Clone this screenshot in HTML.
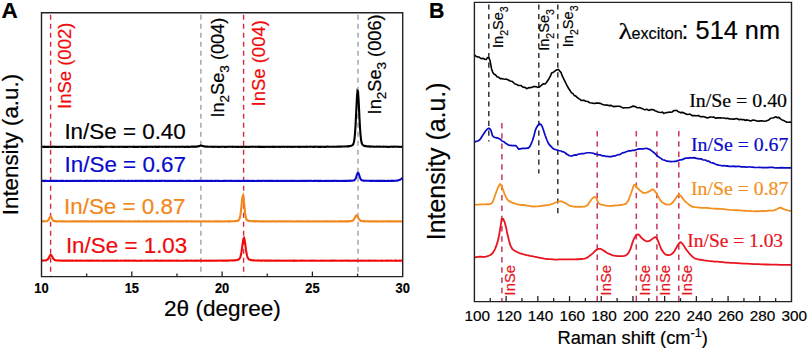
<!DOCTYPE html>
<html><head><meta charset="utf-8"><style>html,body{margin:0;padding:0;background:#fff;width:809px;height:349px;overflow:hidden}svg{display:block}text{stroke:currentColor;stroke-width:0.2px}</style></head>
<body><svg width="809" height="349" viewBox="0 0 809 349">
<rect width="809" height="349" fill="#fff"/>
<line x1="50.60" y1="14.8" x2="50.60" y2="276.6" stroke="#d8283f" stroke-width="1.4" stroke-dasharray="5 4"/>
<line x1="200.90" y1="14.8" x2="200.90" y2="276.6" stroke="#a0a0a0" stroke-width="1.4" stroke-dasharray="5 4"/>
<line x1="243.60" y1="14.8" x2="243.60" y2="276.6" stroke="#d8283f" stroke-width="1.4" stroke-dasharray="5 4"/>
<line x1="358.00" y1="14.8" x2="358.00" y2="276.6" stroke="#a0a0a0" stroke-width="1.4" stroke-dasharray="5 4"/>
<path d="M41.50,146.74 L42.00,146.81 L42.50,146.77 L43.00,146.82 L43.50,146.83 L44.00,146.70 L44.50,146.68 L45.00,146.88 L45.50,146.74 L46.00,146.74 L46.50,146.92 L47.00,146.79 L47.50,146.88 L48.00,146.79 L48.50,146.83 L49.00,146.72 L49.50,146.83 L50.00,146.89 L50.50,146.80 L51.00,146.86 L51.50,146.84 L52.00,146.69 L52.50,146.86 L53.00,146.82 L53.50,146.75 L54.00,146.69 L54.50,146.89 L55.00,146.79 L55.50,146.85 L56.00,146.89 L56.50,146.85 L57.00,146.90 L57.50,146.77 L58.00,146.87 L58.50,146.79 L59.00,146.90 L59.50,146.89 L60.00,146.70 L60.50,146.71 L61.00,146.73 L61.50,146.91 L62.00,146.78 L62.50,146.83 L63.00,146.75 L63.50,146.80 L64.00,146.77 L64.50,146.76 L65.00,146.82 L65.50,146.82 L66.00,146.90 L66.50,146.84 L67.00,146.90 L67.50,146.88 L68.00,146.92 L68.50,146.84 L69.00,146.72 L69.50,146.89 L70.00,146.91 L70.50,146.90 L71.00,146.82 L71.50,146.85 L72.00,146.73 L72.50,146.88 L73.00,146.82 L73.50,146.75 L74.00,146.69 L74.50,146.88 L75.00,146.92 L75.50,146.70 L76.00,146.87 L76.50,146.78 L77.00,146.72 L77.50,146.75 L78.00,146.86 L78.50,146.89 L79.00,146.69 L79.50,146.83 L80.00,146.69 L80.50,146.85 L81.00,146.76 L81.50,146.89 L82.00,146.91 L82.50,146.80 L83.00,146.92 L83.50,146.75 L84.00,146.70 L84.50,146.82 L85.00,146.69 L85.50,146.73 L86.00,146.78 L86.50,146.83 L87.00,146.72 L87.50,146.69 L88.00,146.89 L88.50,146.75 L89.00,146.91 L89.50,146.89 L90.00,146.77 L90.50,146.79 L91.00,146.80 L91.50,146.83 L92.00,146.82 L92.50,146.81 L93.00,146.83 L93.50,146.90 L94.00,146.80 L94.50,146.78 L95.00,146.85 L95.50,146.74 L96.00,146.75 L96.50,146.91 L97.00,146.80 L97.50,146.81 L98.00,146.68 L98.50,146.78 L99.00,146.82 L99.50,146.68 L100.00,146.83 L100.50,146.83 L101.00,146.69 L101.50,146.83 L102.00,146.79 L102.50,146.84 L103.00,146.76 L103.50,146.85 L104.00,146.86 L104.50,146.68 L105.00,146.69 L105.50,146.84 L106.00,146.91 L106.50,146.74 L107.00,146.79 L107.50,146.82 L108.00,146.76 L108.50,146.77 L109.00,146.75 L109.50,146.77 L110.00,146.82 L110.50,146.75 L111.00,146.77 L111.50,146.86 L112.00,146.69 L112.50,146.82 L113.00,146.86 L113.50,146.75 L114.00,146.73 L114.50,146.87 L115.00,146.74 L115.50,146.72 L116.00,146.78 L116.50,146.85 L117.00,146.70 L117.50,146.76 L118.00,146.76 L118.50,146.88 L119.00,146.78 L119.50,146.88 L120.00,146.72 L120.50,146.76 L121.00,146.83 L121.50,146.89 L122.00,146.79 L122.50,146.73 L123.00,146.71 L123.50,146.81 L124.00,146.72 L124.50,146.87 L125.00,146.88 L125.50,146.72 L126.00,146.75 L126.50,146.87 L127.00,146.83 L127.50,146.87 L128.00,146.76 L128.50,146.71 L129.00,146.75 L129.50,146.87 L130.00,146.74 L130.50,146.76 L131.00,146.78 L131.50,146.78 L132.00,146.78 L132.50,146.90 L133.00,146.72 L133.50,146.68 L134.00,146.90 L134.50,146.89 L135.00,146.92 L135.50,146.78 L136.00,146.91 L136.50,146.90 L137.00,146.73 L137.50,146.86 L138.00,146.88 L138.50,146.84 L139.00,146.80 L139.50,146.75 L140.00,146.76 L140.50,146.73 L141.00,146.69 L141.50,146.82 L142.00,146.75 L142.50,146.87 L143.00,146.69 L143.50,146.89 L144.00,146.84 L144.50,146.90 L145.00,146.89 L145.50,146.89 L146.00,146.82 L146.50,146.68 L147.00,146.86 L147.50,146.72 L148.00,146.75 L148.50,146.84 L149.00,146.80 L149.50,146.78 L150.00,146.90 L150.50,146.82 L151.00,146.76 L151.50,146.74 L152.00,146.88 L152.50,146.79 L153.00,146.87 L153.50,146.76 L154.00,146.72 L154.50,146.81 L155.00,146.87 L155.50,146.72 L156.00,146.87 L156.50,146.90 L157.00,146.87 L157.50,146.87 L158.00,146.68 L158.50,146.83 L159.00,146.88 L159.50,146.69 L160.00,146.74 L160.50,146.74 L161.00,146.80 L161.50,146.78 L162.00,146.79 L162.50,146.86 L163.00,146.68 L163.50,146.69 L164.00,146.71 L164.50,146.71 L165.00,146.69 L165.50,146.91 L166.00,146.88 L166.50,146.70 L167.00,146.80 L167.50,146.75 L168.00,146.75 L168.50,146.76 L169.00,146.83 L169.50,146.82 L170.00,146.76 L170.50,146.72 L171.00,146.75 L171.50,146.70 L172.00,146.81 L172.50,146.85 L173.00,146.77 L173.50,146.69 L174.00,146.72 L174.50,146.76 L175.00,146.82 L175.50,146.86 L176.00,146.76 L176.50,146.86 L177.00,146.82 L177.50,146.78 L178.00,146.76 L178.50,146.79 L179.00,146.84 L179.50,146.77 L180.00,146.84 L180.50,146.78 L181.00,146.73 L181.50,146.80 L182.00,146.84 L182.50,146.68 L183.00,146.77 L183.50,146.77 L184.00,146.88 L184.50,146.89 L185.00,146.75 L185.50,146.88 L186.00,146.85 L186.50,146.72 L187.00,146.77 L187.50,146.69 L188.00,146.85 L188.50,146.81 L189.00,146.87 L189.50,146.84 L190.00,146.81 L190.50,146.82 L191.00,146.78 L191.50,146.66 L192.00,146.78 L192.50,146.63 L193.00,146.66 L193.50,146.80 L194.00,146.62 L194.50,146.62 L195.00,146.60 L195.50,146.77 L196.00,146.56 L196.50,146.48 L197.00,146.61 L197.50,146.35 L198.00,146.41 L198.50,146.24 L199.00,146.13 L199.50,146.00 L200.00,145.76 L200.50,145.71 L201.00,145.49 L201.50,145.70 L202.00,145.75 L202.50,145.94 L203.00,145.95 L203.50,146.26 L204.00,146.44 L204.50,146.34 L205.00,146.49 L205.50,146.61 L206.00,146.72 L206.50,146.61 L207.00,146.62 L207.50,146.66 L208.00,146.76 L208.50,146.80 L209.00,146.72 L209.50,146.72 L210.00,146.73 L210.50,146.72 L211.00,146.74 L211.50,146.67 L212.00,146.77 L212.50,146.88 L213.00,146.75 L213.50,146.83 L214.00,146.69 L214.50,146.82 L215.00,146.84 L215.50,146.82 L216.00,146.79 L216.50,146.78 L217.00,146.82 L217.50,146.88 L218.00,146.70 L218.50,146.69 L219.00,146.85 L219.50,146.89 L220.00,146.79 L220.50,146.77 L221.00,146.84 L221.50,146.71 L222.00,146.73 L222.50,146.72 L223.00,146.81 L223.50,146.75 L224.00,146.73 L224.50,146.84 L225.00,146.90 L225.50,146.74 L226.00,146.84 L226.50,146.77 L227.00,146.88 L227.50,146.81 L228.00,146.74 L228.50,146.72 L229.00,146.68 L229.50,146.79 L230.00,146.76 L230.50,146.71 L231.00,146.76 L231.50,146.75 L232.00,146.86 L232.50,146.71 L233.00,146.91 L233.50,146.79 L234.00,146.82 L234.50,146.79 L235.00,146.87 L235.50,146.87 L236.00,146.81 L236.50,146.79 L237.00,146.85 L237.50,146.88 L238.00,146.77 L238.50,146.85 L239.00,146.90 L239.50,146.79 L240.00,146.73 L240.50,146.73 L241.00,146.85 L241.50,146.84 L242.00,146.90 L242.50,146.88 L243.00,146.73 L243.50,146.72 L244.00,146.74 L244.50,146.72 L245.00,146.84 L245.50,146.88 L246.00,146.89 L246.50,146.74 L247.00,146.88 L247.50,146.75 L248.00,146.78 L248.50,146.85 L249.00,146.70 L249.50,146.70 L250.00,146.87 L250.50,146.74 L251.00,146.76 L251.50,146.81 L252.00,146.84 L252.50,146.68 L253.00,146.75 L253.50,146.78 L254.00,146.79 L254.50,146.72 L255.00,146.81 L255.50,146.90 L256.00,146.77 L256.50,146.80 L257.00,146.70 L257.50,146.74 L258.00,146.83 L258.50,146.70 L259.00,146.89 L259.50,146.89 L260.00,146.70 L260.50,146.90 L261.00,146.76 L261.50,146.86 L262.00,146.86 L262.50,146.74 L263.00,146.84 L263.50,146.83 L264.00,146.87 L264.50,146.74 L265.00,146.85 L265.50,146.90 L266.00,146.84 L266.50,146.80 L267.00,146.70 L267.50,146.79 L268.00,146.76 L268.50,146.85 L269.00,146.84 L269.50,146.81 L270.00,146.72 L270.50,146.83 L271.00,146.82 L271.50,146.72 L272.00,146.89 L272.50,146.83 L273.00,146.70 L273.50,146.90 L274.00,146.71 L274.50,146.75 L275.00,146.85 L275.50,146.82 L276.00,146.81 L276.50,146.83 L277.00,146.78 L277.50,146.75 L278.00,146.71 L278.50,146.69 L279.00,146.84 L279.50,146.85 L280.00,146.80 L280.50,146.85 L281.00,146.76 L281.50,146.74 L282.00,146.76 L282.50,146.88 L283.00,146.68 L283.50,146.79 L284.00,146.73 L284.50,146.86 L285.00,146.76 L285.50,146.75 L286.00,146.77 L286.50,146.80 L287.00,146.86 L287.50,146.75 L288.00,146.87 L288.50,146.70 L289.00,146.73 L289.50,146.69 L290.00,146.70 L290.50,146.86 L291.00,146.84 L291.50,146.71 L292.00,146.71 L292.50,146.77 L293.00,146.85 L293.50,146.86 L294.00,146.85 L294.50,146.81 L295.00,146.70 L295.50,146.76 L296.00,146.71 L296.50,146.79 L297.00,146.80 L297.50,146.72 L298.00,146.73 L298.50,146.85 L299.00,146.67 L299.50,146.86 L300.00,146.88 L300.50,146.89 L301.00,146.76 L301.50,146.80 L302.00,146.80 L302.50,146.82 L303.00,146.90 L303.50,146.83 L304.00,146.74 L304.50,146.87 L305.00,146.78 L305.50,146.81 L306.00,146.84 L306.50,146.66 L307.00,146.85 L307.50,146.82 L308.00,146.78 L308.50,146.79 L309.00,146.77 L309.50,146.71 L310.00,146.79 L310.50,146.67 L311.00,146.78 L311.50,146.81 L312.00,146.76 L312.50,146.79 L313.00,146.89 L313.50,146.87 L314.00,146.69 L314.50,146.85 L315.00,146.80 L315.50,146.67 L316.00,146.74 L316.50,146.71 L317.00,146.67 L317.50,146.78 L318.00,146.87 L318.50,146.73 L319.00,146.86 L319.50,146.82 L320.00,146.68 L320.50,146.85 L321.00,146.79 L321.50,146.87 L322.00,146.82 L322.50,146.82 L323.00,146.72 L323.50,146.83 L324.00,146.86 L324.50,146.85 L325.00,146.74 L325.50,146.82 L326.00,146.75 L326.50,146.66 L327.00,146.64 L327.50,146.65 L328.00,146.68 L328.50,146.66 L329.00,146.74 L329.50,146.79 L330.00,146.75 L330.50,146.72 L331.00,146.77 L331.50,146.69 L332.00,146.72 L332.50,146.79 L333.00,146.70 L333.50,146.65 L334.00,146.81 L334.50,146.77 L335.00,146.68 L335.50,146.68 L336.00,146.71 L336.50,146.72 L337.00,146.63 L337.50,146.57 L338.00,146.61 L338.50,146.74 L339.00,146.58 L339.50,146.65 L340.00,146.58 L340.50,146.58 L341.00,146.56 L341.50,146.60 L342.00,146.54 L342.50,146.49 L343.00,146.50 L343.50,146.50 L344.00,146.56 L344.50,146.44 L345.00,146.41 L345.50,146.49 L346.00,146.45 L346.50,146.49 L347.00,146.30 L347.50,146.35 L348.00,146.30 L348.50,146.17 L349.00,146.33 L349.50,146.08 L350.00,145.97 L350.50,145.96 L351.00,145.77 L351.50,145.72 L352.00,145.44 L352.50,145.07 L353.00,144.51 L353.50,143.69 L354.00,141.78 L354.50,138.73 L355.00,133.54 L355.50,126.19 L356.00,116.45 L356.50,105.82 L357.00,96.32 L357.50,90.91 L358.00,91.52 L358.50,98.01 L359.00,107.90 L359.50,118.59 L360.00,127.88 L360.50,134.77 L361.00,139.32 L361.50,142.17 L362.00,143.78 L362.50,144.67 L363.00,145.12 L363.50,145.42 L364.00,145.76 L364.50,145.97 L365.00,145.92 L365.50,146.20 L366.00,146.16 L366.50,146.31 L367.00,146.39 L367.50,146.44 L368.00,146.27 L368.50,146.37 L369.00,146.48 L369.50,146.59 L370.00,146.40 L370.50,146.48 L371.00,146.63 L371.50,146.47 L372.00,146.55 L372.50,146.55 L373.00,146.65 L373.50,146.72 L374.00,146.55 L374.50,146.70 L375.00,146.70 L375.50,146.74 L376.00,146.68 L376.50,146.77 L377.00,146.65 L377.50,146.66 L378.00,146.62 L378.50,146.76 L379.00,146.70 L379.50,146.65 L380.00,146.63 L380.50,146.77 L381.00,146.74 L381.50,146.77 L382.00,146.70 L382.50,146.72 L383.00,146.65 L383.50,146.78 L384.00,146.62 L384.50,146.73 L385.00,146.80 L385.50,146.78 L386.00,146.65 L386.50,146.68 L387.00,146.83 L387.50,146.78 L388.00,146.84 L388.50,146.84 L389.00,146.74 L389.50,146.85 L390.00,146.81 L390.50,146.72 L391.00,146.73 L391.50,146.66 L392.00,146.74 L392.50,146.87 L393.00,146.67 L393.50,146.78 L394.00,146.67 L394.50,146.67 L395.00,146.80 L395.50,146.71 L396.00,146.66 L396.50,146.69 L397.00,146.81 L397.50,146.79 L398.00,146.65 L398.50,146.71 L399.00,146.89 L399.50,146.71 L400.00,146.79 L400.50,146.76 L401.00,146.84 L401.50,146.80 L402.00,146.85 L402.50,146.79" fill="none" stroke="#000" stroke-width="2.1"/>
<path d="M41.50,180.83 L42.00,180.82 L42.50,180.80 L43.00,180.98 L43.50,180.81 L44.00,180.79 L44.50,181.01 L45.00,180.83 L45.50,180.99 L46.00,180.80 L46.50,180.89 L47.00,180.83 L47.50,180.98 L48.00,180.93 L48.50,180.93 L49.00,180.96 L49.50,180.99 L50.00,180.86 L50.50,180.92 L51.00,180.89 L51.50,180.81 L52.00,180.98 L52.50,180.92 L53.00,180.98 L53.50,180.83 L54.00,180.91 L54.50,180.89 L55.00,180.95 L55.50,180.80 L56.00,180.86 L56.50,180.90 L57.00,180.80 L57.50,180.91 L58.00,180.96 L58.50,180.88 L59.00,180.94 L59.50,180.93 L60.00,180.83 L60.50,180.86 L61.00,181.02 L61.50,180.86 L62.00,180.88 L62.50,180.80 L63.00,180.83 L63.50,180.82 L64.00,181.00 L64.50,180.95 L65.00,180.99 L65.50,181.02 L66.00,180.93 L66.50,181.00 L67.00,180.91 L67.50,180.88 L68.00,181.01 L68.50,181.00 L69.00,181.01 L69.50,180.90 L70.00,180.97 L70.50,180.88 L71.00,181.02 L71.50,181.00 L72.00,180.85 L72.50,181.00 L73.00,180.82 L73.50,180.80 L74.00,180.95 L74.50,180.85 L75.00,180.90 L75.50,180.93 L76.00,180.79 L76.50,180.96 L77.00,180.85 L77.50,180.88 L78.00,180.86 L78.50,180.96 L79.00,180.96 L79.50,180.85 L80.00,180.80 L80.50,180.85 L81.00,180.88 L81.50,180.80 L82.00,180.82 L82.50,180.96 L83.00,180.95 L83.50,181.01 L84.00,181.02 L84.50,180.99 L85.00,180.87 L85.50,180.82 L86.00,180.85 L86.50,180.89 L87.00,180.91 L87.50,180.91 L88.00,180.87 L88.50,180.98 L89.00,180.85 L89.50,180.89 L90.00,180.99 L90.50,180.97 L91.00,180.85 L91.50,180.84 L92.00,180.97 L92.50,180.78 L93.00,180.81 L93.50,180.91 L94.00,180.91 L94.50,180.82 L95.00,180.79 L95.50,180.83 L96.00,180.96 L96.50,180.89 L97.00,181.01 L97.50,180.97 L98.00,181.01 L98.50,180.79 L99.00,180.82 L99.50,180.78 L100.00,180.88 L100.50,180.86 L101.00,180.79 L101.50,180.91 L102.00,180.80 L102.50,180.85 L103.00,180.84 L103.50,180.97 L104.00,180.88 L104.50,180.84 L105.00,180.79 L105.50,180.88 L106.00,180.93 L106.50,180.94 L107.00,181.00 L107.50,180.97 L108.00,180.84 L108.50,180.81 L109.00,180.96 L109.50,180.97 L110.00,180.90 L110.50,180.98 L111.00,180.91 L111.50,180.85 L112.00,180.82 L112.50,180.78 L113.00,180.93 L113.50,181.00 L114.00,181.00 L114.50,180.89 L115.00,180.94 L115.50,181.00 L116.00,180.98 L116.50,180.92 L117.00,180.88 L117.50,180.90 L118.00,180.82 L118.50,180.82 L119.00,180.94 L119.50,181.02 L120.00,180.91 L120.50,180.88 L121.00,180.86 L121.50,180.89 L122.00,180.97 L122.50,180.89 L123.00,181.01 L123.50,180.82 L124.00,180.86 L124.50,180.91 L125.00,180.88 L125.50,180.98 L126.00,180.98 L126.50,181.00 L127.00,180.93 L127.50,180.79 L128.00,180.92 L128.50,180.91 L129.00,180.90 L129.50,180.85 L130.00,180.95 L130.50,181.00 L131.00,180.80 L131.50,180.94 L132.00,180.87 L132.50,180.90 L133.00,180.99 L133.50,181.01 L134.00,180.93 L134.50,180.83 L135.00,181.00 L135.50,180.82 L136.00,180.87 L136.50,180.98 L137.00,180.86 L137.50,180.84 L138.00,181.01 L138.50,181.01 L139.00,180.86 L139.50,180.87 L140.00,180.85 L140.50,180.81 L141.00,180.84 L141.50,181.02 L142.00,180.80 L142.50,180.83 L143.00,180.83 L143.50,180.80 L144.00,180.91 L144.50,180.96 L145.00,180.98 L145.50,180.93 L146.00,180.98 L146.50,180.78 L147.00,180.85 L147.50,181.01 L148.00,180.80 L148.50,180.84 L149.00,180.90 L149.50,180.84 L150.00,180.91 L150.50,180.79 L151.00,180.84 L151.50,181.01 L152.00,180.81 L152.50,181.00 L153.00,180.82 L153.50,181.02 L154.00,180.94 L154.50,180.94 L155.00,180.81 L155.50,180.79 L156.00,180.96 L156.50,180.82 L157.00,180.83 L157.50,180.98 L158.00,180.99 L158.50,180.79 L159.00,181.01 L159.50,180.91 L160.00,180.87 L160.50,180.81 L161.00,180.87 L161.50,181.02 L162.00,180.85 L162.50,180.81 L163.00,180.81 L163.50,180.81 L164.00,180.86 L164.50,181.00 L165.00,180.80 L165.50,180.83 L166.00,181.01 L166.50,181.02 L167.00,181.01 L167.50,180.84 L168.00,180.86 L168.50,181.01 L169.00,180.90 L169.50,180.95 L170.00,180.85 L170.50,180.78 L171.00,180.86 L171.50,180.96 L172.00,180.97 L172.50,180.92 L173.00,180.89 L173.50,180.91 L174.00,180.89 L174.50,180.91 L175.00,180.98 L175.50,180.83 L176.00,180.92 L176.50,181.00 L177.00,180.98 L177.50,180.82 L178.00,181.01 L178.50,180.98 L179.00,180.82 L179.50,180.84 L180.00,180.83 L180.50,180.79 L181.00,181.01 L181.50,180.88 L182.00,180.99 L182.50,180.81 L183.00,180.78 L183.50,180.99 L184.00,180.97 L184.50,181.02 L185.00,180.94 L185.50,180.91 L186.00,180.96 L186.50,180.80 L187.00,180.91 L187.50,180.89 L188.00,180.81 L188.50,180.92 L189.00,180.86 L189.50,180.90 L190.00,180.87 L190.50,180.86 L191.00,180.87 L191.50,180.92 L192.00,181.02 L192.50,181.00 L193.00,180.99 L193.50,180.98 L194.00,180.85 L194.50,181.01 L195.00,180.84 L195.50,180.81 L196.00,180.90 L196.50,180.96 L197.00,180.86 L197.50,180.93 L198.00,180.85 L198.50,181.01 L199.00,180.89 L199.50,180.89 L200.00,180.91 L200.50,180.99 L201.00,181.02 L201.50,180.91 L202.00,180.89 L202.50,180.93 L203.00,180.80 L203.50,180.88 L204.00,180.98 L204.50,180.97 L205.00,180.79 L205.50,180.98 L206.00,180.87 L206.50,181.02 L207.00,180.87 L207.50,180.83 L208.00,180.91 L208.50,180.99 L209.00,180.88 L209.50,180.99 L210.00,180.95 L210.50,180.87 L211.00,180.85 L211.50,180.90 L212.00,180.88 L212.50,180.87 L213.00,180.94 L213.50,180.99 L214.00,180.92 L214.50,180.81 L215.00,180.83 L215.50,180.87 L216.00,180.93 L216.50,180.81 L217.00,180.80 L217.50,180.86 L218.00,180.85 L218.50,180.79 L219.00,180.91 L219.50,181.00 L220.00,180.91 L220.50,180.96 L221.00,180.98 L221.50,180.98 L222.00,181.00 L222.50,180.89 L223.00,180.94 L223.50,180.81 L224.00,180.99 L224.50,180.87 L225.00,180.89 L225.50,180.99 L226.00,180.85 L226.50,180.83 L227.00,180.98 L227.50,180.92 L228.00,180.80 L228.50,180.79 L229.00,180.86 L229.50,180.78 L230.00,180.98 L230.50,180.82 L231.00,180.85 L231.50,180.87 L232.00,180.90 L232.50,180.88 L233.00,180.93 L233.50,180.94 L234.00,180.88 L234.50,180.80 L235.00,181.01 L235.50,180.95 L236.00,180.80 L236.50,180.89 L237.00,180.96 L237.50,181.02 L238.00,180.80 L238.50,180.78 L239.00,180.89 L239.50,180.88 L240.00,180.99 L240.50,180.98 L241.00,180.86 L241.50,180.88 L242.00,180.92 L242.50,180.99 L243.00,180.83 L243.50,180.87 L244.00,180.80 L244.50,180.93 L245.00,180.79 L245.50,181.00 L246.00,180.91 L246.50,180.92 L247.00,180.80 L247.50,180.84 L248.00,180.89 L248.50,180.99 L249.00,180.91 L249.50,180.85 L250.00,181.01 L250.50,180.94 L251.00,180.91 L251.50,180.83 L252.00,180.85 L252.50,181.00 L253.00,180.81 L253.50,180.91 L254.00,180.93 L254.50,180.86 L255.00,180.96 L255.50,181.00 L256.00,180.99 L256.50,180.96 L257.00,180.83 L257.50,180.79 L258.00,180.88 L258.50,180.85 L259.00,180.83 L259.50,180.99 L260.00,180.83 L260.50,180.98 L261.00,181.00 L261.50,180.81 L262.00,181.00 L262.50,180.87 L263.00,180.83 L263.50,180.82 L264.00,180.79 L264.50,180.90 L265.00,180.87 L265.50,180.98 L266.00,180.98 L266.50,180.79 L267.00,180.88 L267.50,180.87 L268.00,180.82 L268.50,180.84 L269.00,180.84 L269.50,180.95 L270.00,180.86 L270.50,180.81 L271.00,180.83 L271.50,180.89 L272.00,180.91 L272.50,180.84 L273.00,180.95 L273.50,180.83 L274.00,180.94 L274.50,180.93 L275.00,180.82 L275.50,180.96 L276.00,180.87 L276.50,180.91 L277.00,180.92 L277.50,180.93 L278.00,180.88 L278.50,180.79 L279.00,180.97 L279.50,180.98 L280.00,180.90 L280.50,180.92 L281.00,180.84 L281.50,180.99 L282.00,180.94 L282.50,180.83 L283.00,180.97 L283.50,181.02 L284.00,180.86 L284.50,181.02 L285.00,180.89 L285.50,180.82 L286.00,180.95 L286.50,180.86 L287.00,180.95 L287.50,180.92 L288.00,180.80 L288.50,180.91 L289.00,180.98 L289.50,180.89 L290.00,180.91 L290.50,180.99 L291.00,180.89 L291.50,180.90 L292.00,180.92 L292.50,180.98 L293.00,180.83 L293.50,180.80 L294.00,180.96 L294.50,180.91 L295.00,180.85 L295.50,180.99 L296.00,180.99 L296.50,180.91 L297.00,181.01 L297.50,180.98 L298.00,180.96 L298.50,180.85 L299.00,180.78 L299.50,180.94 L300.00,180.95 L300.50,180.86 L301.00,180.89 L301.50,180.91 L302.00,180.84 L302.50,180.94 L303.00,180.91 L303.50,180.87 L304.00,180.80 L304.50,180.91 L305.00,180.85 L305.50,180.95 L306.00,180.82 L306.50,180.87 L307.00,180.82 L307.50,180.87 L308.00,180.91 L308.50,180.80 L309.00,180.79 L309.50,180.89 L310.00,180.82 L310.50,180.90 L311.00,180.82 L311.50,180.80 L312.00,180.91 L312.50,181.00 L313.00,180.98 L313.50,180.90 L314.00,180.87 L314.50,180.79 L315.00,180.84 L315.50,180.85 L316.00,181.00 L316.50,180.80 L317.00,181.00 L317.50,180.89 L318.00,180.88 L318.50,180.84 L319.00,181.01 L319.50,180.82 L320.00,180.91 L320.50,180.90 L321.00,180.82 L321.50,180.83 L322.00,181.01 L322.50,180.96 L323.00,180.95 L323.50,180.99 L324.00,180.80 L324.50,180.94 L325.00,180.95 L325.50,180.83 L326.00,180.88 L326.50,181.01 L327.00,180.85 L327.50,180.95 L328.00,180.81 L328.50,180.93 L329.00,180.83 L329.50,180.89 L330.00,180.86 L330.50,180.98 L331.00,180.95 L331.50,180.89 L332.00,180.93 L332.50,180.87 L333.00,180.96 L333.50,180.83 L334.00,180.90 L334.50,180.91 L335.00,180.86 L335.50,180.77 L336.00,180.80 L336.50,180.92 L337.00,180.81 L337.50,180.94 L338.00,180.88 L338.50,180.99 L339.00,180.96 L339.50,180.93 L340.00,180.84 L340.50,180.76 L341.00,180.88 L341.50,180.93 L342.00,180.97 L342.50,180.79 L343.00,180.78 L343.50,180.98 L344.00,180.92 L344.50,180.85 L345.00,180.91 L345.50,180.76 L346.00,180.85 L346.50,180.88 L347.00,180.86 L347.50,180.74 L348.00,180.73 L348.50,180.84 L349.00,180.89 L349.50,180.70 L350.00,180.66 L350.50,180.66 L351.00,180.81 L351.50,180.69 L352.00,180.67 L352.50,180.76 L353.00,180.61 L353.50,180.44 L354.00,180.39 L354.50,179.94 L355.00,179.52 L355.50,178.82 L356.00,177.54 L356.50,176.01 L357.00,174.50 L357.50,173.10 L358.00,172.71 L358.50,173.05 L359.00,174.57 L359.50,176.09 L360.00,177.69 L360.50,178.76 L361.00,179.61 L361.50,180.02 L362.00,180.27 L362.50,180.48 L363.00,180.66 L363.50,180.61 L364.00,180.62 L364.50,180.69 L365.00,180.64 L365.50,180.71 L366.00,180.79 L366.50,180.80 L367.00,180.82 L367.50,180.76 L368.00,180.70 L368.50,180.71 L369.00,180.79 L369.50,180.77 L370.00,180.86 L370.50,180.79 L371.00,180.91 L371.50,180.88 L372.00,180.90 L372.50,180.92 L373.00,180.87 L373.50,180.85 L374.00,180.82 L374.50,180.76 L375.00,180.94 L375.50,180.87 L376.00,180.78 L376.50,180.98 L377.00,180.90 L377.50,180.91 L378.00,180.86 L378.50,180.79 L379.00,181.00 L379.50,180.80 L380.00,180.85 L380.50,181.00 L381.00,180.79 L381.50,180.88 L382.00,180.88 L382.50,180.82 L383.00,180.99 L383.50,180.86 L384.00,180.77 L384.50,180.88 L385.00,180.77 L385.50,180.94 L386.00,180.97 L386.50,180.98 L387.00,180.77 L387.50,180.92 L388.00,180.83 L388.50,180.87 L389.00,180.83 L389.50,180.83 L390.00,180.78 L390.50,180.90 L391.00,180.76 L391.50,180.96 L392.00,180.73 L392.50,180.95 L393.00,180.75 L393.50,180.71 L394.00,180.84 L394.50,180.77 L395.00,180.80 L395.50,180.70 L396.00,180.69 L396.50,180.50 L397.00,180.58 L397.50,180.46 L398.00,180.47 L398.50,180.12 L399.00,179.99 L399.50,179.96 L400.00,179.81 L400.50,179.42 L401.00,179.17 L401.50,178.74 L402.00,178.22 L402.50,177.66" fill="none" stroke="#0a0acc" stroke-width="2.1"/>
<path d="M41.50,221.38 L42.00,221.24 L42.50,221.30 L43.00,221.40 L43.50,221.28 L44.00,221.32 L44.50,221.26 L45.00,221.26 L45.50,221.31 L46.00,221.31 L46.50,221.31 L47.00,221.11 L47.50,220.86 L48.00,220.55 L48.50,219.89 L49.00,219.04 L49.50,218.03 L50.00,217.00 L50.50,216.35 L51.00,216.59 L51.50,217.47 L52.00,218.61 L52.50,219.67 L53.00,220.33 L53.50,220.91 L54.00,221.07 L54.50,221.14 L55.00,221.22 L55.50,221.16 L56.00,221.35 L56.50,221.37 L57.00,221.29 L57.50,221.39 L58.00,221.29 L58.50,221.28 L59.00,221.29 L59.50,221.29 L60.00,221.39 L60.50,221.40 L61.00,221.42 L61.50,221.28 L62.00,221.44 L62.50,221.37 L63.00,221.35 L63.50,221.38 L64.00,221.36 L64.50,221.31 L65.00,221.36 L65.50,221.42 L66.00,221.44 L66.50,221.49 L67.00,221.31 L67.50,221.48 L68.00,221.46 L68.50,221.44 L69.00,221.50 L69.50,221.30 L70.00,221.46 L70.50,221.49 L71.00,221.30 L71.50,221.41 L72.00,221.50 L72.50,221.34 L73.00,221.48 L73.50,221.49 L74.00,221.38 L74.50,221.31 L75.00,221.33 L75.50,221.47 L76.00,221.38 L76.50,221.35 L77.00,221.38 L77.50,221.50 L78.00,221.34 L78.50,221.28 L79.00,221.50 L79.50,221.35 L80.00,221.37 L80.50,221.51 L81.00,221.34 L81.50,221.30 L82.00,221.49 L82.50,221.33 L83.00,221.33 L83.50,221.50 L84.00,221.33 L84.50,221.49 L85.00,221.36 L85.50,221.35 L86.00,221.33 L86.50,221.41 L87.00,221.41 L87.50,221.37 L88.00,221.40 L88.50,221.35 L89.00,221.48 L89.50,221.50 L90.00,221.46 L90.50,221.47 L91.00,221.29 L91.50,221.34 L92.00,221.33 L92.50,221.31 L93.00,221.51 L93.50,221.49 L94.00,221.50 L94.50,221.41 L95.00,221.31 L95.50,221.38 L96.00,221.29 L96.50,221.49 L97.00,221.34 L97.50,221.35 L98.00,221.50 L98.50,221.33 L99.00,221.50 L99.50,221.35 L100.00,221.44 L100.50,221.30 L101.00,221.49 L101.50,221.37 L102.00,221.36 L102.50,221.43 L103.00,221.42 L103.50,221.34 L104.00,221.31 L104.50,221.42 L105.00,221.28 L105.50,221.49 L106.00,221.36 L106.50,221.32 L107.00,221.36 L107.50,221.31 L108.00,221.35 L108.50,221.41 L109.00,221.38 L109.50,221.36 L110.00,221.35 L110.50,221.39 L111.00,221.46 L111.50,221.38 L112.00,221.46 L112.50,221.39 L113.00,221.31 L113.50,221.32 L114.00,221.48 L114.50,221.39 L115.00,221.37 L115.50,221.40 L116.00,221.48 L116.50,221.37 L117.00,221.36 L117.50,221.37 L118.00,221.28 L118.50,221.41 L119.00,221.39 L119.50,221.40 L120.00,221.39 L120.50,221.39 L121.00,221.45 L121.50,221.32 L122.00,221.51 L122.50,221.31 L123.00,221.49 L123.50,221.32 L124.00,221.47 L124.50,221.34 L125.00,221.30 L125.50,221.41 L126.00,221.48 L126.50,221.48 L127.00,221.49 L127.50,221.51 L128.00,221.29 L128.50,221.37 L129.00,221.30 L129.50,221.46 L130.00,221.39 L130.50,221.46 L131.00,221.47 L131.50,221.52 L132.00,221.44 L132.50,221.49 L133.00,221.41 L133.50,221.30 L134.00,221.49 L134.50,221.30 L135.00,221.30 L135.50,221.48 L136.00,221.35 L136.50,221.44 L137.00,221.28 L137.50,221.33 L138.00,221.45 L138.50,221.29 L139.00,221.40 L139.50,221.50 L140.00,221.33 L140.50,221.45 L141.00,221.46 L141.50,221.43 L142.00,221.46 L142.50,221.45 L143.00,221.28 L143.50,221.32 L144.00,221.41 L144.50,221.51 L145.00,221.33 L145.50,221.42 L146.00,221.31 L146.50,221.48 L147.00,221.38 L147.50,221.40 L148.00,221.44 L148.50,221.31 L149.00,221.45 L149.50,221.47 L150.00,221.48 L150.50,221.34 L151.00,221.33 L151.50,221.32 L152.00,221.49 L152.50,221.38 L153.00,221.37 L153.50,221.40 L154.00,221.44 L154.50,221.35 L155.00,221.36 L155.50,221.46 L156.00,221.46 L156.50,221.35 L157.00,221.29 L157.50,221.50 L158.00,221.45 L158.50,221.42 L159.00,221.37 L159.50,221.51 L160.00,221.38 L160.50,221.33 L161.00,221.30 L161.50,221.36 L162.00,221.42 L162.50,221.36 L163.00,221.50 L163.50,221.43 L164.00,221.39 L164.50,221.43 L165.00,221.42 L165.50,221.42 L166.00,221.40 L166.50,221.40 L167.00,221.39 L167.50,221.48 L168.00,221.32 L168.50,221.46 L169.00,221.35 L169.50,221.48 L170.00,221.29 L170.50,221.39 L171.00,221.38 L171.50,221.45 L172.00,221.32 L172.50,221.34 L173.00,221.31 L173.50,221.41 L174.00,221.41 L174.50,221.28 L175.00,221.32 L175.50,221.32 L176.00,221.51 L176.50,221.38 L177.00,221.41 L177.50,221.34 L178.00,221.43 L178.50,221.47 L179.00,221.44 L179.50,221.28 L180.00,221.38 L180.50,221.39 L181.00,221.29 L181.50,221.46 L182.00,221.35 L182.50,221.34 L183.00,221.42 L183.50,221.41 L184.00,221.39 L184.50,221.48 L185.00,221.40 L185.50,221.36 L186.00,221.29 L186.50,221.41 L187.00,221.36 L187.50,221.40 L188.00,221.36 L188.50,221.27 L189.00,221.28 L189.50,221.31 L190.00,221.30 L190.50,221.48 L191.00,221.41 L191.50,221.33 L192.00,221.44 L192.50,221.42 L193.00,221.29 L193.50,221.45 L194.00,221.33 L194.50,221.51 L195.00,221.31 L195.50,221.34 L196.00,221.33 L196.50,221.48 L197.00,221.47 L197.50,221.41 L198.00,221.31 L198.50,221.37 L199.00,221.44 L199.50,221.28 L200.00,221.49 L200.50,221.47 L201.00,221.49 L201.50,221.44 L202.00,221.42 L202.50,221.50 L203.00,221.33 L203.50,221.34 L204.00,221.30 L204.50,221.31 L205.00,221.46 L205.50,221.29 L206.00,221.44 L206.50,221.36 L207.00,221.48 L207.50,221.45 L208.00,221.43 L208.50,221.47 L209.00,221.27 L209.50,221.33 L210.00,221.35 L210.50,221.36 L211.00,221.42 L211.50,221.47 L212.00,221.44 L212.50,221.48 L213.00,221.43 L213.50,221.34 L214.00,221.38 L214.50,221.44 L215.00,221.45 L215.50,221.34 L216.00,221.34 L216.50,221.40 L217.00,221.31 L217.50,221.46 L218.00,221.25 L218.50,221.40 L219.00,221.36 L219.50,221.29 L220.00,221.38 L220.50,221.36 L221.00,221.47 L221.50,221.45 L222.00,221.38 L222.50,221.44 L223.00,221.44 L223.50,221.27 L224.00,221.43 L224.50,221.42 L225.00,221.46 L225.50,221.40 L226.00,221.31 L226.50,221.26 L227.00,221.36 L227.50,221.25 L228.00,221.38 L228.50,221.33 L229.00,221.38 L229.50,221.26 L230.00,221.24 L230.50,221.38 L231.00,221.31 L231.50,221.23 L232.00,221.26 L232.50,221.22 L233.00,221.25 L233.50,221.20 L234.00,221.12 L234.50,221.26 L235.00,221.21 L235.50,221.14 L236.00,220.98 L236.50,220.90 L237.00,220.96 L237.50,220.88 L238.00,220.68 L238.50,220.31 L239.00,219.92 L239.50,218.91 L240.00,217.14 L240.50,214.40 L241.00,210.38 L241.50,205.50 L242.00,200.49 L242.50,196.78 L243.00,195.57 L243.50,197.93 L244.00,202.48 L244.50,207.54 L245.00,212.15 L245.50,215.73 L246.00,217.86 L246.50,219.43 L247.00,220.14 L247.50,220.52 L248.00,220.67 L248.50,220.87 L249.00,220.84 L249.50,221.00 L250.00,220.99 L250.50,221.20 L251.00,221.20 L251.50,221.15 L252.00,221.24 L252.50,221.18 L253.00,221.23 L253.50,221.16 L254.00,221.34 L254.50,221.33 L255.00,221.34 L255.50,221.18 L256.00,221.37 L256.50,221.18 L257.00,221.32 L257.50,221.31 L258.00,221.21 L258.50,221.30 L259.00,221.42 L259.50,221.36 L260.00,221.29 L260.50,221.41 L261.00,221.31 L261.50,221.44 L262.00,221.32 L262.50,221.25 L263.00,221.47 L263.50,221.25 L264.00,221.30 L264.50,221.42 L265.00,221.27 L265.50,221.37 L266.00,221.45 L266.50,221.39 L267.00,221.33 L267.50,221.43 L268.00,221.45 L268.50,221.39 L269.00,221.40 L269.50,221.33 L270.00,221.35 L270.50,221.49 L271.00,221.49 L271.50,221.26 L272.00,221.30 L272.50,221.31 L273.00,221.45 L273.50,221.31 L274.00,221.30 L274.50,221.44 L275.00,221.30 L275.50,221.50 L276.00,221.37 L276.50,221.48 L277.00,221.46 L277.50,221.31 L278.00,221.45 L278.50,221.36 L279.00,221.32 L279.50,221.28 L280.00,221.43 L280.50,221.40 L281.00,221.34 L281.50,221.47 L282.00,221.31 L282.50,221.37 L283.00,221.29 L283.50,221.35 L284.00,221.48 L284.50,221.39 L285.00,221.30 L285.50,221.32 L286.00,221.42 L286.50,221.34 L287.00,221.48 L287.50,221.28 L288.00,221.48 L288.50,221.42 L289.00,221.47 L289.50,221.35 L290.00,221.29 L290.50,221.31 L291.00,221.42 L291.50,221.28 L292.00,221.30 L292.50,221.46 L293.00,221.48 L293.50,221.48 L294.00,221.47 L294.50,221.40 L295.00,221.48 L295.50,221.44 L296.00,221.40 L296.50,221.37 L297.00,221.28 L297.50,221.29 L298.00,221.33 L298.50,221.38 L299.00,221.30 L299.50,221.50 L300.00,221.41 L300.50,221.45 L301.00,221.49 L301.50,221.33 L302.00,221.48 L302.50,221.50 L303.00,221.34 L303.50,221.30 L304.00,221.46 L304.50,221.49 L305.00,221.46 L305.50,221.37 L306.00,221.42 L306.50,221.30 L307.00,221.33 L307.50,221.37 L308.00,221.45 L308.50,221.29 L309.00,221.49 L309.50,221.28 L310.00,221.50 L310.50,221.33 L311.00,221.47 L311.50,221.47 L312.00,221.50 L312.50,221.38 L313.00,221.44 L313.50,221.34 L314.00,221.47 L314.50,221.30 L315.00,221.48 L315.50,221.41 L316.00,221.29 L316.50,221.50 L317.00,221.35 L317.50,221.29 L318.00,221.33 L318.50,221.28 L319.00,221.34 L319.50,221.44 L320.00,221.51 L320.50,221.42 L321.00,221.48 L321.50,221.47 L322.00,221.44 L322.50,221.36 L323.00,221.33 L323.50,221.31 L324.00,221.40 L324.50,221.32 L325.00,221.45 L325.50,221.35 L326.00,221.41 L326.50,221.40 L327.00,221.42 L327.50,221.30 L328.00,221.33 L328.50,221.43 L329.00,221.32 L329.50,221.43 L330.00,221.50 L330.50,221.36 L331.00,221.50 L331.50,221.41 L332.00,221.49 L332.50,221.39 L333.00,221.44 L333.50,221.43 L334.00,221.31 L334.50,221.38 L335.00,221.40 L335.50,221.37 L336.00,221.42 L336.50,221.48 L337.00,221.45 L337.50,221.45 L338.00,221.29 L338.50,221.42 L339.00,221.40 L339.50,221.47 L340.00,221.25 L340.50,221.29 L341.00,221.48 L341.50,221.33 L342.00,221.41 L342.50,221.38 L343.00,221.33 L343.50,221.33 L344.00,221.36 L344.50,221.46 L345.00,221.34 L345.50,221.40 L346.00,221.28 L346.50,221.37 L347.00,221.33 L347.50,221.36 L348.00,221.38 L348.50,221.17 L349.00,221.37 L349.50,221.27 L350.00,221.16 L350.50,221.17 L351.00,221.04 L351.50,220.99 L352.00,221.02 L352.50,220.79 L353.00,220.50 L353.50,219.85 L354.00,219.16 L354.50,218.37 L355.00,217.41 L355.50,216.49 L356.00,215.64 L356.50,215.46 L357.00,215.71 L357.50,216.39 L358.00,217.48 L358.50,218.30 L359.00,219.28 L359.50,219.86 L360.00,220.31 L360.50,220.73 L361.00,220.94 L361.50,221.08 L362.00,221.10 L362.50,221.28 L363.00,221.28 L363.50,221.16 L364.00,221.14 L364.50,221.39 L365.00,221.27 L365.50,221.21 L366.00,221.23 L366.50,221.37 L367.00,221.25 L367.50,221.30 L368.00,221.38 L368.50,221.31 L369.00,221.38 L369.50,221.46 L370.00,221.42 L370.50,221.39 L371.00,221.39 L371.50,221.32 L372.00,221.40 L372.50,221.40 L373.00,221.39 L373.50,221.37 L374.00,221.43 L374.50,221.30 L375.00,221.43 L375.50,221.49 L376.00,221.27 L376.50,221.32 L377.00,221.50 L377.50,221.28 L378.00,221.46 L378.50,221.40 L379.00,221.28 L379.50,221.41 L380.00,221.27 L380.50,221.47 L381.00,221.34 L381.50,221.49 L382.00,221.48 L382.50,221.30 L383.00,221.36 L383.50,221.30 L384.00,221.45 L384.50,221.29 L385.00,221.29 L385.50,221.30 L386.00,221.48 L386.50,221.33 L387.00,221.35 L387.50,221.38 L388.00,221.40 L388.50,221.37 L389.00,221.50 L389.50,221.35 L390.00,221.39 L390.50,221.48 L391.00,221.33 L391.50,221.31 L392.00,221.47 L392.50,221.35 L393.00,221.49 L393.50,221.47 L394.00,221.36 L394.50,221.35 L395.00,221.30 L395.50,221.48 L396.00,221.38 L396.50,221.36 L397.00,221.32 L397.50,221.33 L398.00,221.48 L398.50,221.31 L399.00,221.41 L399.50,221.42 L400.00,221.40 L400.50,221.40 L401.00,221.37 L401.50,221.32 L402.00,221.47 L402.50,221.49" fill="none" stroke="#f2861a" stroke-width="2.1"/>
<path d="M41.50,260.60 L42.00,260.51 L42.50,260.65 L43.00,260.47 L43.50,260.44 L44.00,260.52 L44.50,260.54 L45.00,260.43 L45.50,260.26 L46.00,260.37 L46.50,260.02 L47.00,259.83 L47.50,259.63 L48.00,259.07 L48.50,258.36 L49.00,257.34 L49.50,256.57 L50.00,255.57 L50.50,254.89 L51.00,255.02 L51.50,255.55 L52.00,256.19 L52.50,257.24 L53.00,258.24 L53.50,258.83 L54.00,259.38 L54.50,259.88 L55.00,260.05 L55.50,260.35 L56.00,260.42 L56.50,260.49 L57.00,260.50 L57.50,260.41 L58.00,260.56 L58.50,260.55 L59.00,260.55 L59.50,260.58 L60.00,260.53 L60.50,260.52 L61.00,260.70 L61.50,260.58 L62.00,260.52 L62.50,260.74 L63.00,260.63 L63.50,260.68 L64.00,260.60 L64.50,260.56 L65.00,260.61 L65.50,260.73 L66.00,260.60 L66.50,260.76 L67.00,260.61 L67.50,260.76 L68.00,260.59 L68.50,260.65 L69.00,260.58 L69.50,260.58 L70.00,260.68 L70.50,260.64 L71.00,260.68 L71.50,260.61 L72.00,260.63 L72.50,260.63 L73.00,260.77 L73.50,260.58 L74.00,260.66 L74.50,260.77 L75.00,260.70 L75.50,260.62 L76.00,260.80 L76.50,260.59 L77.00,260.60 L77.50,260.57 L78.00,260.67 L78.50,260.77 L79.00,260.63 L79.50,260.63 L80.00,260.76 L80.50,260.59 L81.00,260.57 L81.50,260.73 L82.00,260.59 L82.50,260.69 L83.00,260.60 L83.50,260.71 L84.00,260.77 L84.50,260.68 L85.00,260.64 L85.50,260.72 L86.00,260.74 L86.50,260.58 L87.00,260.63 L87.50,260.66 L88.00,260.69 L88.50,260.64 L89.00,260.73 L89.50,260.63 L90.00,260.79 L90.50,260.66 L91.00,260.63 L91.50,260.59 L92.00,260.60 L92.50,260.62 L93.00,260.78 L93.50,260.67 L94.00,260.68 L94.50,260.80 L95.00,260.80 L95.50,260.76 L96.00,260.63 L96.50,260.65 L97.00,260.69 L97.50,260.64 L98.00,260.66 L98.50,260.62 L99.00,260.63 L99.50,260.75 L100.00,260.72 L100.50,260.68 L101.00,260.69 L101.50,260.72 L102.00,260.74 L102.50,260.58 L103.00,260.78 L103.50,260.69 L104.00,260.66 L104.50,260.80 L105.00,260.76 L105.50,260.66 L106.00,260.58 L106.50,260.68 L107.00,260.68 L107.50,260.66 L108.00,260.60 L108.50,260.71 L109.00,260.64 L109.50,260.76 L110.00,260.70 L110.50,260.65 L111.00,260.77 L111.50,260.68 L112.00,260.60 L112.50,260.64 L113.00,260.59 L113.50,260.68 L114.00,260.79 L114.50,260.80 L115.00,260.73 L115.50,260.61 L116.00,260.63 L116.50,260.62 L117.00,260.66 L117.50,260.73 L118.00,260.58 L118.50,260.69 L119.00,260.68 L119.50,260.73 L120.00,260.77 L120.50,260.67 L121.00,260.72 L121.50,260.64 L122.00,260.68 L122.50,260.73 L123.00,260.59 L123.50,260.70 L124.00,260.70 L124.50,260.62 L125.00,260.64 L125.50,260.77 L126.00,260.66 L126.50,260.62 L127.00,260.64 L127.50,260.70 L128.00,260.67 L128.50,260.66 L129.00,260.65 L129.50,260.63 L130.00,260.70 L130.50,260.72 L131.00,260.60 L131.50,260.72 L132.00,260.65 L132.50,260.81 L133.00,260.80 L133.50,260.61 L134.00,260.74 L134.50,260.66 L135.00,260.60 L135.50,260.79 L136.00,260.79 L136.50,260.76 L137.00,260.73 L137.50,260.81 L138.00,260.71 L138.50,260.74 L139.00,260.73 L139.50,260.78 L140.00,260.78 L140.50,260.65 L141.00,260.63 L141.50,260.71 L142.00,260.72 L142.50,260.66 L143.00,260.78 L143.50,260.78 L144.00,260.74 L144.50,260.70 L145.00,260.74 L145.50,260.62 L146.00,260.77 L146.50,260.61 L147.00,260.79 L147.50,260.73 L148.00,260.64 L148.50,260.62 L149.00,260.72 L149.50,260.69 L150.00,260.74 L150.50,260.60 L151.00,260.78 L151.50,260.68 L152.00,260.68 L152.50,260.75 L153.00,260.72 L153.50,260.68 L154.00,260.64 L154.50,260.69 L155.00,260.58 L155.50,260.64 L156.00,260.77 L156.50,260.60 L157.00,260.59 L157.50,260.78 L158.00,260.66 L158.50,260.70 L159.00,260.72 L159.50,260.75 L160.00,260.65 L160.50,260.76 L161.00,260.57 L161.50,260.78 L162.00,260.65 L162.50,260.72 L163.00,260.65 L163.50,260.75 L164.00,260.66 L164.50,260.72 L165.00,260.65 L165.50,260.77 L166.00,260.76 L166.50,260.62 L167.00,260.75 L167.50,260.80 L168.00,260.63 L168.50,260.62 L169.00,260.80 L169.50,260.80 L170.00,260.60 L170.50,260.76 L171.00,260.80 L171.50,260.64 L172.00,260.76 L172.50,260.64 L173.00,260.76 L173.50,260.69 L174.00,260.69 L174.50,260.60 L175.00,260.73 L175.50,260.74 L176.00,260.64 L176.50,260.58 L177.00,260.59 L177.50,260.63 L178.00,260.81 L178.50,260.75 L179.00,260.79 L179.50,260.75 L180.00,260.60 L180.50,260.66 L181.00,260.80 L181.50,260.77 L182.00,260.81 L182.50,260.77 L183.00,260.74 L183.50,260.75 L184.00,260.79 L184.50,260.67 L185.00,260.58 L185.50,260.64 L186.00,260.57 L186.50,260.63 L187.00,260.71 L187.50,260.63 L188.00,260.63 L188.50,260.59 L189.00,260.65 L189.50,260.69 L190.00,260.71 L190.50,260.79 L191.00,260.58 L191.50,260.63 L192.00,260.58 L192.50,260.79 L193.00,260.72 L193.50,260.72 L194.00,260.76 L194.50,260.57 L195.00,260.78 L195.50,260.64 L196.00,260.71 L196.50,260.66 L197.00,260.74 L197.50,260.63 L198.00,260.63 L198.50,260.62 L199.00,260.74 L199.50,260.67 L200.00,260.60 L200.50,260.65 L201.00,260.70 L201.50,260.65 L202.00,260.70 L202.50,260.76 L203.00,260.71 L203.50,260.75 L204.00,260.63 L204.50,260.76 L205.00,260.78 L205.50,260.68 L206.00,260.56 L206.50,260.57 L207.00,260.73 L207.50,260.76 L208.00,260.72 L208.50,260.67 L209.00,260.68 L209.50,260.58 L210.00,260.69 L210.50,260.79 L211.00,260.60 L211.50,260.69 L212.00,260.75 L212.50,260.70 L213.00,260.63 L213.50,260.60 L214.00,260.71 L214.50,260.76 L215.00,260.75 L215.50,260.63 L216.00,260.71 L216.50,260.73 L217.00,260.62 L217.50,260.71 L218.00,260.62 L218.50,260.57 L219.00,260.52 L219.50,260.69 L220.00,260.70 L220.50,260.52 L221.00,260.52 L221.50,260.58 L222.00,260.55 L222.50,260.68 L223.00,260.54 L223.50,260.63 L224.00,260.62 L224.50,260.57 L225.00,260.68 L225.50,260.58 L226.00,260.59 L226.50,260.62 L227.00,260.55 L227.50,260.49 L228.00,260.67 L228.50,260.61 L229.00,260.55 L229.50,260.52 L230.00,260.54 L230.50,260.45 L231.00,260.38 L231.50,260.48 L232.00,260.54 L232.50,260.33 L233.00,260.52 L233.50,260.34 L234.00,260.46 L234.50,260.37 L235.00,260.20 L235.50,260.14 L236.00,260.24 L236.50,260.19 L237.00,260.06 L237.50,259.89 L238.00,259.73 L238.50,259.57 L239.00,259.25 L239.50,258.72 L240.00,257.74 L240.50,256.55 L241.00,254.63 L241.50,251.86 L242.00,248.36 L242.50,244.62 L243.00,241.09 L243.50,238.41 L244.00,237.85 L244.50,239.33 L245.00,242.49 L245.50,246.15 L246.00,249.90 L246.50,253.05 L247.00,255.49 L247.50,257.17 L248.00,258.13 L248.50,258.88 L249.00,259.44 L249.50,259.50 L250.00,259.68 L250.50,259.84 L251.00,260.08 L251.50,260.06 L252.00,260.22 L252.50,260.31 L253.00,260.35 L253.50,260.21 L254.00,260.40 L254.50,260.46 L255.00,260.46 L255.50,260.52 L256.00,260.53 L256.50,260.50 L257.00,260.58 L257.50,260.52 L258.00,260.42 L258.50,260.48 L259.00,260.64 L259.50,260.51 L260.00,260.55 L260.50,260.66 L261.00,260.62 L261.50,260.65 L262.00,260.58 L262.50,260.60 L263.00,260.50 L263.50,260.53 L264.00,260.53 L264.50,260.62 L265.00,260.62 L265.50,260.52 L266.00,260.66 L266.50,260.53 L267.00,260.60 L267.50,260.52 L268.00,260.63 L268.50,260.55 L269.00,260.75 L269.50,260.61 L270.00,260.73 L270.50,260.63 L271.00,260.61 L271.50,260.73 L272.00,260.60 L272.50,260.66 L273.00,260.69 L273.50,260.78 L274.00,260.71 L274.50,260.55 L275.00,260.65 L275.50,260.77 L276.00,260.75 L276.50,260.63 L277.00,260.58 L277.50,260.61 L278.00,260.73 L278.50,260.59 L279.00,260.76 L279.50,260.61 L280.00,260.72 L280.50,260.72 L281.00,260.61 L281.50,260.68 L282.00,260.71 L282.50,260.62 L283.00,260.68 L283.50,260.71 L284.00,260.79 L284.50,260.63 L285.00,260.60 L285.50,260.68 L286.00,260.70 L286.50,260.68 L287.00,260.78 L287.50,260.61 L288.00,260.68 L288.50,260.67 L289.00,260.61 L289.50,260.67 L290.00,260.67 L290.50,260.65 L291.00,260.75 L291.50,260.80 L292.00,260.80 L292.50,260.62 L293.00,260.65 L293.50,260.79 L294.00,260.59 L294.50,260.59 L295.00,260.58 L295.50,260.80 L296.00,260.69 L296.50,260.67 L297.00,260.59 L297.50,260.78 L298.00,260.81 L298.50,260.73 L299.00,260.79 L299.50,260.70 L300.00,260.64 L300.50,260.61 L301.00,260.64 L301.50,260.60 L302.00,260.66 L302.50,260.58 L303.00,260.58 L303.50,260.78 L304.00,260.77 L304.50,260.77 L305.00,260.65 L305.50,260.68 L306.00,260.70 L306.50,260.76 L307.00,260.64 L307.50,260.69 L308.00,260.70 L308.50,260.77 L309.00,260.66 L309.50,260.57 L310.00,260.67 L310.50,260.78 L311.00,260.61 L311.50,260.72 L312.00,260.60 L312.50,260.64 L313.00,260.72 L313.50,260.60 L314.00,260.68 L314.50,260.71 L315.00,260.67 L315.50,260.75 L316.00,260.78 L316.50,260.64 L317.00,260.76 L317.50,260.75 L318.00,260.72 L318.50,260.72 L319.00,260.71 L319.50,260.75 L320.00,260.74 L320.50,260.64 L321.00,260.73 L321.50,260.74 L322.00,260.68 L322.50,260.79 L323.00,260.65 L323.50,260.71 L324.00,260.71 L324.50,260.72 L325.00,260.62 L325.50,260.73 L326.00,260.60 L326.50,260.70 L327.00,260.68 L327.50,260.74 L328.00,260.78 L328.50,260.81 L329.00,260.63 L329.50,260.79 L330.00,260.69 L330.50,260.70 L331.00,260.58 L331.50,260.78 L332.00,260.63 L332.50,260.64 L333.00,260.65 L333.50,260.63 L334.00,260.64 L334.50,260.64 L335.00,260.70 L335.50,260.66 L336.00,260.76 L336.50,260.80 L337.00,260.80 L337.50,260.67 L338.00,260.74 L338.50,260.75 L339.00,260.75 L339.50,260.67 L340.00,260.62 L340.50,260.76 L341.00,260.73 L341.50,260.66 L342.00,260.74 L342.50,260.59 L343.00,260.76 L343.50,260.79 L344.00,260.81 L344.50,260.60 L345.00,260.74 L345.50,260.76 L346.00,260.61 L346.50,260.72 L347.00,260.62 L347.50,260.63 L348.00,260.58 L348.50,260.64 L349.00,260.78 L349.50,260.72 L350.00,260.77 L350.50,260.81 L351.00,260.61 L351.50,260.78 L352.00,260.79 L352.50,260.73 L353.00,260.66 L353.50,260.62 L354.00,260.68 L354.50,260.67 L355.00,260.64 L355.50,260.74 L356.00,260.73 L356.50,260.64 L357.00,260.62 L357.50,260.70 L358.00,260.75 L358.50,260.74 L359.00,260.73 L359.50,260.79 L360.00,260.76 L360.50,260.68 L361.00,260.76 L361.50,260.74 L362.00,260.66 L362.50,260.62 L363.00,260.67 L363.50,260.75 L364.00,260.76 L364.50,260.65 L365.00,260.71 L365.50,260.60 L366.00,260.72 L366.50,260.69 L367.00,260.76 L367.50,260.78 L368.00,260.59 L368.50,260.81 L369.00,260.62 L369.50,260.81 L370.00,260.81 L370.50,260.63 L371.00,260.65 L371.50,260.61 L372.00,260.80 L372.50,260.76 L373.00,260.81 L373.50,260.77 L374.00,260.66 L374.50,260.76 L375.00,260.66 L375.50,260.66 L376.00,260.68 L376.50,260.75 L377.00,260.65 L377.50,260.71 L378.00,260.71 L378.50,260.77 L379.00,260.69 L379.50,260.68 L380.00,260.71 L380.50,260.69 L381.00,260.75 L381.50,260.60 L382.00,260.62 L382.50,260.59 L383.00,260.68 L383.50,260.78 L384.00,260.72 L384.50,260.73 L385.00,260.80 L385.50,260.78 L386.00,260.65 L386.50,260.63 L387.00,260.71 L387.50,260.63 L388.00,260.72 L388.50,260.60 L389.00,260.67 L389.50,260.75 L390.00,260.64 L390.50,260.61 L391.00,260.76 L391.50,260.62 L392.00,260.79 L392.50,260.73 L393.00,260.79 L393.50,260.71 L394.00,260.70 L394.50,260.64 L395.00,260.59 L395.50,260.81 L396.00,260.63 L396.50,260.60 L397.00,260.80 L397.50,260.71 L398.00,260.72 L398.50,260.80 L399.00,260.75 L399.50,260.64 L400.00,260.65 L400.50,260.74 L401.00,260.74 L401.50,260.63 L402.00,260.64 L402.50,260.70" fill="none" stroke="#f00a0a" stroke-width="2.1"/>
<path d="M41.5,12.8 H402.7 V276.6 H41.5 Z" fill="none" stroke="#222" stroke-width="1.4"/>
<line x1="86.65" y1="276.6" x2="86.65" y2="273.6" stroke="#222" stroke-width="1.3"/>
<line x1="131.80" y1="276.6" x2="131.80" y2="271.6" stroke="#222" stroke-width="1.3"/>
<line x1="176.95" y1="276.6" x2="176.95" y2="273.6" stroke="#222" stroke-width="1.3"/>
<line x1="222.10" y1="276.6" x2="222.10" y2="271.6" stroke="#222" stroke-width="1.3"/>
<line x1="267.25" y1="276.6" x2="267.25" y2="273.6" stroke="#222" stroke-width="1.3"/>
<line x1="312.40" y1="276.6" x2="312.40" y2="271.6" stroke="#222" stroke-width="1.3"/>
<line x1="357.55" y1="276.6" x2="357.55" y2="273.6" stroke="#222" stroke-width="1.3"/>
<text transform="translate(41.50,293) scale(0.92,1)" font-family="Liberation Sans, sans-serif" font-size="14" font-weight="bold" text-anchor="middle">10</text>
<text transform="translate(131.80,293) scale(0.92,1)" font-family="Liberation Sans, sans-serif" font-size="14" font-weight="bold" text-anchor="middle">15</text>
<text transform="translate(222.10,293) scale(0.92,1)" font-family="Liberation Sans, sans-serif" font-size="14" font-weight="bold" text-anchor="middle">20</text>
<text transform="translate(312.40,293) scale(0.92,1)" font-family="Liberation Sans, sans-serif" font-size="14" font-weight="bold" text-anchor="middle">25</text>
<text transform="translate(402.70,293) scale(0.92,1)" font-family="Liberation Sans, sans-serif" font-size="14" font-weight="bold" text-anchor="middle">30</text>
<text x="1.6" y="17.9" font-family="Liberation Sans, sans-serif" font-size="22.5" font-weight="bold">A</text>
<text transform="translate(17.9,215.2) rotate(-90)" font-family="Liberation Sans, sans-serif" font-size="22.3">Intensity (a.u.)</text>
<text x="164" y="316.3" font-family="Liberation Sans, sans-serif" font-size="22.6">2θ (degree)</text>
<text x="64.4" y="139.0" font-family="Liberation Sans, sans-serif" font-size="22.4" fill="#000" color="#000">In/Se = 0.40</text>
<text x="64.6" y="172.2" font-family="Liberation Sans, sans-serif" font-size="22.4" fill="#0a0acc" color="#0a0acc">In/Se = 0.67</text>
<text x="64.0" y="214.4" font-family="Liberation Sans, sans-serif" font-size="22.4" fill="#f2861a" color="#f2861a">In/Se = 0.87</text>
<text x="65.9" y="252.6" font-family="Liberation Sans, sans-serif" font-size="22.4" fill="#f00a0a" color="#f00a0a">In/Se = 1.03</text>
<text transform="translate(70.5,109) rotate(-90)" font-family="Liberation Sans, sans-serif" font-size="18.5" fill="#f00a0a" color="#f00a0a">InSe (002)</text>
<text transform="translate(264.8,106.5) rotate(-90)" font-family="Liberation Sans, sans-serif" font-size="18.5" fill="#f00a0a" color="#f00a0a">InSe (004)</text>
<text transform="translate(223.8,117.6) rotate(-90)" font-family="Liberation Sans, sans-serif" font-size="18.2" fill="#000" color="#000">In<tspan font-size="13.5" dy="5">2</tspan><tspan dy="-5">Se</tspan><tspan font-size="13.5" dy="5">3</tspan><tspan dy="-5"> (004)</tspan></text>
<text transform="translate(380.5,114.4) rotate(-90)" font-family="Liberation Sans, sans-serif" font-size="18.2" fill="#000" color="#000">In<tspan font-size="13.5" dy="5">2</tspan><tspan dy="-5">Se</tspan><tspan font-size="13.5" dy="5">3</tspan><tspan dy="-5"> (006)</tspan></text>
<line x1="501.90" y1="123" x2="501.90" y2="301.6" stroke="#c8385a" stroke-width="1.5" stroke-dasharray="5.5 4.8"/>
<line x1="597.20" y1="131" x2="597.20" y2="301.6" stroke="#c8385a" stroke-width="1.5" stroke-dasharray="5.5 4.8"/>
<line x1="636.30" y1="131" x2="636.30" y2="301.6" stroke="#c8385a" stroke-width="1.5" stroke-dasharray="5.5 4.8"/>
<line x1="656.90" y1="131" x2="656.90" y2="301.6" stroke="#c8385a" stroke-width="1.5" stroke-dasharray="5.5 4.8"/>
<line x1="678.80" y1="131" x2="678.80" y2="301.6" stroke="#c8385a" stroke-width="1.5" stroke-dasharray="5.5 4.8"/>
<line x1="488.80" y1="4.4" x2="488.80" y2="141.5" stroke="#333" stroke-width="1.5" stroke-dasharray="5.2 4.5"/>
<line x1="538.80" y1="4.4" x2="538.80" y2="173.5" stroke="#333" stroke-width="1.5" stroke-dasharray="5.2 4.5"/>
<line x1="557.80" y1="4.4" x2="557.80" y2="215" stroke="#333" stroke-width="1.5" stroke-dasharray="5.2 4.5"/>
<path d="M474.30,54.38 L475.85,56.31 L477.36,56.90 L478.86,56.93 L480.38,58.15 L481.89,58.64 L483.36,58.32 L484.76,59.22 L486.16,59.52 L487.63,57.53 L488.86,57.76 L490.09,60.79 L491.45,68.40 L492.70,72.32 L494.12,74.16 L495.41,74.76 L497.03,76.66 L498.70,77.30 L500.27,78.59 L501.87,78.61 L503.56,79.04 L505.19,79.24 L506.43,79.17 L508.00,79.80 L510.04,80.95 L512.42,81.56 L513.67,82.77 L514.92,83.92 L516.14,84.18 L518.43,85.55 L520.74,85.45 L522.98,87.23 L525.01,87.40 L526.66,88.72 L528.34,87.84 L529.98,87.62 L531.56,87.53 L533.56,86.59 L535.71,86.52 L537.73,87.38 L539.37,87.05 L540.75,85.98 L541.95,84.76 L543.60,83.73 L544.99,84.02 L546.23,82.91 L547.76,80.49 L548.97,78.72 L550.26,76.44 L551.57,73.08 L552.84,72.51 L554.17,71.60 L555.48,70.52 L557.20,69.84 L558.41,69.40 L559.72,71.10 L560.93,72.34 L562.27,75.96 L563.70,78.82 L565.20,81.96 L566.81,85.18 L568.65,88.50 L570.03,90.54 L571.50,92.82 L572.98,93.65 L574.41,95.63 L575.84,96.10 L577.27,97.50 L578.69,98.59 L580.09,99.44 L581.41,100.57 L582.74,100.20 L584.19,100.36 L585.87,101.29 L587.76,101.52 L589.79,102.71 L591.86,102.97 L593.94,103.51 L596.07,103.10 L598.24,103.14 L600.42,103.38 L602.58,104.50 L604.73,105.00 L606.88,105.11 L609.02,105.58 L611.19,105.35 L613.39,106.63 L615.58,106.38 L617.70,106.25 L619.65,106.22 L621.44,107.16 L623.14,108.04 L624.88,107.81 L626.74,107.82 L628.62,107.75 L630.56,107.17 L632.61,106.12 L634.85,106.33 L636.06,107.01 L637.32,107.82 L638.61,107.75 L639.89,107.64 L641.17,108.34 L642.41,108.62 L644.72,109.84 L646.79,109.26 L648.82,110.40 L651.00,109.62 L652.20,109.65 L653.53,109.70 L654.97,110.73 L656.49,111.18 L658.04,111.99 L659.58,112.25 L661.07,112.46 L662.45,112.08 L663.70,113.50 L665.85,112.63 L667.70,112.44 L669.33,112.05 L670.80,112.32 L672.00,112.03 L673.40,110.84 L675.10,110.46 L676.68,110.40 L678.49,111.79 L680.40,112.62 L682.30,112.37 L684.17,113.00 L686.06,114.16 L688.00,114.51 L690.00,114.09 L692.09,115.61 L694.24,115.52 L696.43,115.80 L698.60,115.55 L700.68,116.81 L702.72,116.45 L704.85,117.09 L707.20,117.88 L708.48,117.79 L709.81,116.97 L711.18,117.00 L712.59,117.19 L714.05,117.14 L715.56,118.28 L717.11,117.88 L718.70,117.87 L720.37,117.80 L722.13,118.05 L723.96,118.04 L725.82,118.52 L727.68,118.17 L729.52,118.89 L731.30,118.96 L733.00,119.12 L734.63,119.10 L736.24,118.46 L737.82,118.99 L739.36,119.77 L740.85,119.29 L742.29,119.78 L743.68,119.44 L745.00,120.45 L746.24,119.90 L748.47,120.17 L750.52,121.00 L752.55,120.15 L754.69,120.19 L756.95,120.95 L759.19,121.12 L761.26,120.70 L763.04,120.97 L764.48,121.22 L765.78,121.01 L767.14,120.62 L768.75,119.95 L770.62,118.29 L772.55,118.02 L774.33,117.59 L775.78,116.74 L777.43,117.77 L778.88,117.40 L780.48,118.87 L782.09,119.93 L783.70,120.47 L785.37,121.41 L787.01,122.23 L788.47,122.26 L789.82,122.03 L791.10,122.60" fill="none" stroke="#000" stroke-width="1.6" stroke-linejoin="round"/>
<path d="M474.60,142.04 L476.28,141.37 L477.82,141.02 L479.34,140.09 L480.59,138.70 L482.22,135.98 L483.77,133.81 L485.42,131.30 L487.14,129.17 L488.60,128.35 L489.84,128.66 L491.04,130.44 L492.46,135.60 L494.09,137.27 L495.57,137.57 L497.17,137.91 L498.70,138.39 L500.16,139.15 L501.64,140.60 L503.08,141.51 L504.40,142.01 L505.99,143.52 L507.46,144.36 L508.70,145.25 L510.38,145.29 L512.34,145.54 L514.25,145.51 L515.80,145.55 L517.07,147.07 L518.70,149.19 L519.95,148.90 L521.42,148.64 L522.97,148.39 L524.40,148.33 L525.71,148.40 L526.98,148.10 L528.19,148.15 L529.82,146.69 L531.23,143.73 L532.50,140.50 L533.97,135.78 L535.32,130.34 L536.56,127.44 L537.97,125.27 L539.30,123.69 L540.79,124.30 L542.20,126.51 L543.61,130.47 L545.10,135.22 L546.71,139.49 L548.08,142.78 L549.76,145.25 L551.06,146.39 L552.39,147.93 L553.70,148.98 L554.96,149.42 L556.21,149.77 L557.45,150.07 L558.70,150.47 L559.93,150.76 L561.16,150.99 L562.40,151.74 L563.70,151.92 L565.08,152.72 L566.51,154.13 L567.96,154.82 L569.40,155.71 L570.81,155.99 L572.20,155.97 L573.62,155.31 L575.10,154.83 L576.62,155.07 L578.18,154.11 L579.82,153.98 L581.60,153.71 L583.59,153.70 L585.76,153.03 L587.94,152.77 L590.00,152.77 L591.78,153.02 L593.41,153.26 L595.13,154.17 L597.20,154.41 L598.45,154.80 L599.84,154.83 L601.33,155.40 L602.87,155.88 L604.42,155.78 L605.94,156.48 L607.38,156.27 L608.70,156.63 L611.00,156.71 L613.04,156.13 L615.03,155.95 L617.20,155.04 L618.40,154.70 L619.67,154.56 L620.98,153.88 L622.30,153.04 L623.62,152.58 L624.91,152.32 L626.14,151.77 L628.38,150.95 L630.39,150.97 L632.25,150.36 L634.08,150.41 L635.92,149.73 L637.74,149.19 L639.53,148.92 L641.31,148.87 L643.09,148.79 L644.87,148.52 L646.63,148.42 L648.41,148.97 L650.20,149.64 L651.99,151.05 L653.80,152.46 L655.60,154.09 L657.39,156.05 L659.14,157.35 L660.90,158.37 L662.74,159.72 L664.72,160.19 L666.91,161.18 L669.15,161.35 L671.26,161.58 L673.05,161.48 L674.52,161.42 L675.85,161.45 L677.23,160.86 L678.81,160.33 L680.44,159.79 L682.18,159.63 L684.07,158.68 L686.19,158.15 L688.51,158.11 L689.73,157.71 L691.00,157.79 L692.30,157.95 L693.63,157.65 L695.00,157.85 L696.44,158.34 L697.97,158.58 L699.56,158.91 L701.18,158.80 L702.79,159.79 L704.35,159.98 L705.83,160.17 L707.20,161.09 L708.45,161.01 L710.69,162.49 L712.73,162.90 L714.75,163.80 L716.85,164.67 L718.84,165.18 L720.86,165.47 L723.12,165.86 L724.40,165.56 L725.81,166.06 L727.33,165.92 L728.93,166.39 L730.59,166.27 L732.29,166.38 L733.99,166.12 L735.67,166.67 L737.30,166.37 L738.85,166.41 L740.32,166.63 L741.76,166.94 L743.21,166.76 L744.71,166.94 L746.32,167.11 L748.06,166.98 L750.00,166.97 L752.14,167.21 L754.46,167.45 L756.92,167.49 L759.47,167.26 L762.10,167.57 L764.75,167.72 L767.40,167.68 L770.00,167.41 L772.73,167.36 L775.69,167.96 L778.76,167.82 L781.80,167.59 L784.68,167.89 L787.28,167.82 L789.46,167.86 L791.10,167.80" fill="none" stroke="#0a0ac8" stroke-width="1.7" stroke-linejoin="round"/>
<path d="M474.60,204.85 L476.55,204.67 L478.38,204.58 L480.44,204.43 L482.65,204.42 L483.93,204.47 L485.30,204.33 L486.71,204.27 L488.08,204.26 L489.38,204.25 L491.50,203.36 L492.83,201.74 L494.30,197.60 L495.62,193.80 L497.34,189.19 L498.96,185.54 L500.28,183.87 L501.50,185.80 L502.74,188.87 L504.16,192.91 L505.52,196.12 L506.98,198.94 L508.70,200.89 L510.52,201.91 L512.74,202.96 L515.10,203.67 L517.30,204.44 L519.27,204.63 L521.15,205.00 L523.03,204.85 L525.00,205.12 L527.09,205.55 L529.24,205.99 L531.43,206.39 L533.60,206.48 L535.75,206.36 L537.90,206.47 L540.05,206.02 L542.20,205.91 L544.42,205.49 L546.68,205.18 L548.85,204.84 L550.80,204.41 L552.46,203.96 L553.92,203.30 L555.24,202.58 L556.50,202.21 L558.15,201.46 L559.66,201.28 L561.44,201.25 L562.83,201.83 L564.29,202.61 L565.77,203.30 L567.17,204.18 L568.92,205.36 L570.31,205.96 L572.30,206.48 L573.67,206.71 L575.33,206.75 L577.17,206.85 L579.09,206.77 L581.01,206.79 L582.81,206.68 L584.41,206.59 L585.70,206.16 L587.42,205.42 L588.81,203.36 L590.52,200.81 L592.11,198.72 L593.57,197.30 L595.03,196.81 L596.50,198.54 L597.86,201.85 L599.30,203.76 L600.87,204.54 L602.80,204.98 L604.96,205.49 L607.20,205.87 L609.59,205.80 L610.86,205.78 L612.16,205.93 L613.46,205.61 L614.75,205.52 L616.00,205.44 L618.38,205.38 L620.75,204.99 L623.00,204.67 L624.97,204.13 L626.48,203.33 L627.87,201.32 L629.40,197.81 L631.08,193.26 L632.81,188.13 L634.01,184.92 L635.46,185.22 L636.99,187.57 L638.47,189.01 L639.82,190.36 L641.33,191.54 L642.87,192.75 L644.33,192.86 L645.83,192.73 L647.32,192.37 L648.69,191.67 L650.35,190.88 L651.64,189.64 L652.90,189.45 L654.22,190.33 L655.55,192.12 L656.99,194.29 L658.52,197.24 L660.19,200.13 L661.45,201.52 L662.83,202.70 L664.30,203.58 L665.78,204.34 L667.21,204.48 L668.63,204.54 L670.06,204.36 L671.48,203.61 L672.94,202.26 L674.50,200.22 L676.04,197.80 L677.42,195.66 L678.88,194.52 L680.40,195.49 L681.73,196.87 L683.31,199.20 L685.10,201.51 L686.48,202.61 L688.01,203.85 L689.53,205.11 L690.90,205.72 L692.12,206.78 L693.79,206.90 L695.00,207.14 L696.61,207.37 L698.54,207.46 L700.73,207.80 L703.13,207.95 L705.71,207.90 L708.41,208.02 L711.19,208.43 L714.00,208.59 L717.00,208.73 L720.28,208.85 L723.75,209.11 L727.29,209.59 L730.80,209.87 L734.16,210.06 L737.26,210.26 L740.00,210.43 L742.35,210.62 L744.40,210.77 L746.22,210.94 L747.88,210.97 L749.44,211.03 L750.99,211.05 L752.59,211.22 L754.30,211.33 L756.15,211.11 L758.08,211.27 L760.04,211.19 L761.99,211.01 L763.88,210.91 L765.66,211.05 L767.28,210.77 L768.70,210.69 L770.90,210.57 L772.49,210.68 L773.79,210.37 L775.10,209.95 L776.46,209.44 L777.73,208.70 L778.93,207.96 L780.65,207.51 L782.14,208.34 L783.75,209.20 L785.17,209.57 L787.03,210.10 L788.97,210.58 L791.10,211.20" fill="none" stroke="#f39020" stroke-width="1.8" stroke-linejoin="round"/>
<path d="M474.60,257.62 L476.15,257.10 L477.92,256.81 L479.35,256.75 L481.07,256.77 L482.97,256.90 L484.88,256.85 L486.71,256.45 L488.56,255.79 L490.40,255.01 L492.11,253.67 L493.64,251.63 L495.02,249.09 L496.27,245.91 L497.90,240.70 L499.21,234.57 L500.52,226.52 L501.78,218.62 L503.18,218.91 L504.73,222.40 L506.16,227.81 L507.61,234.86 L509.11,241.08 L510.35,245.41 L512.19,248.80 L513.75,250.20 L515.54,251.29 L517.58,252.23 L519.86,253.28 L522.26,253.97 L523.56,254.28 L524.96,254.57 L526.48,255.04 L528.15,255.28 L530.00,255.77 L532.03,256.21 L534.22,256.68 L536.56,257.06 L539.02,257.71 L541.60,258.13 L544.26,258.62 L547.00,259.00 L549.80,259.16 L552.84,259.35 L556.22,259.55 L559.78,259.46 L563.38,259.40 L566.86,259.34 L570.08,259.39 L572.88,259.29 L575.10,259.39 L576.68,259.20 L578.40,259.26 L580.00,259.14 L581.37,259.01 L582.79,258.94 L584.25,258.68 L585.70,258.27 L587.15,257.58 L588.60,256.63 L590.05,255.52 L591.50,254.38 L592.96,253.12 L594.44,251.61 L595.88,250.28 L597.20,249.40 L598.79,248.83 L600.25,248.96 L601.50,249.32 L603.10,250.32 L604.93,251.39 L606.84,252.67 L608.70,253.67 L610.45,254.44 L612.16,255.07 L613.92,255.56 L615.80,255.82 L617.93,256.14 L620.23,256.17 L622.47,256.15 L624.40,255.77 L625.92,255.31 L627.17,254.34 L628.83,252.39 L630.53,248.89 L632.13,243.64 L633.70,239.21 L635.28,236.46 L636.85,234.72 L638.42,234.39 L639.96,235.90 L641.59,238.04 L642.84,239.04 L644.17,240.04 L645.59,241.00 L647.11,241.44 L648.76,241.19 L650.68,240.15 L652.66,238.63 L654.40,237.38 L655.65,237.23 L656.93,238.55 L658.36,241.69 L659.91,245.76 L661.62,249.87 L663.38,252.34 L664.61,253.70 L665.88,254.67 L667.20,255.00 L668.58,255.21 L670.01,254.85 L671.49,254.20 L673.00,252.96 L674.64,250.77 L676.38,247.77 L678.03,244.75 L679.40,242.93 L680.68,242.14 L681.89,243.12 L683.24,244.76 L684.82,247.41 L686.60,250.08 L687.95,251.78 L689.44,253.64 L690.93,255.12 L692.30,256.57 L693.68,257.67 L695.06,258.53 L696.80,258.99 L698.02,259.26 L699.40,259.56 L700.93,259.76 L702.61,260.04 L704.40,260.34 L706.31,260.55 L708.31,260.93 L710.40,261.14 L712.58,261.36 L714.86,261.60 L717.25,261.71 L719.75,261.90 L722.35,262.12 L725.06,262.48 L727.88,262.60 L730.80,262.89 L733.83,262.96 L736.98,263.16 L740.24,263.41 L743.61,263.63 L747.07,263.72 L750.63,263.90 L754.27,264.03 L758.00,264.15 L762.08,264.41 L766.64,264.52 L771.43,264.53 L776.25,264.57 L780.85,264.79 L785.01,264.78 L788.51,264.90 L791.10,264.90" fill="none" stroke="#e8141e" stroke-width="1.8" stroke-linejoin="round"/>
<path d="M474.4,2.4 H791.5 V301.6 H474.4 Z" fill="none" stroke="#222" stroke-width="1.4"/>
<line x1="490.25" y1="301.6" x2="490.25" y2="298.1" stroke="#222" stroke-width="1.3"/>
<line x1="506.11" y1="301.6" x2="506.11" y2="296.1" stroke="#222" stroke-width="1.3"/>
<line x1="521.96" y1="301.6" x2="521.96" y2="298.1" stroke="#222" stroke-width="1.3"/>
<line x1="537.82" y1="301.6" x2="537.82" y2="296.1" stroke="#222" stroke-width="1.3"/>
<line x1="553.67" y1="301.6" x2="553.67" y2="298.1" stroke="#222" stroke-width="1.3"/>
<line x1="569.53" y1="301.6" x2="569.53" y2="296.1" stroke="#222" stroke-width="1.3"/>
<line x1="585.38" y1="301.6" x2="585.38" y2="298.1" stroke="#222" stroke-width="1.3"/>
<line x1="601.24" y1="301.6" x2="601.24" y2="296.1" stroke="#222" stroke-width="1.3"/>
<line x1="617.10" y1="301.6" x2="617.10" y2="298.1" stroke="#222" stroke-width="1.3"/>
<line x1="632.95" y1="301.6" x2="632.95" y2="296.1" stroke="#222" stroke-width="1.3"/>
<line x1="648.80" y1="301.6" x2="648.80" y2="298.1" stroke="#222" stroke-width="1.3"/>
<line x1="664.66" y1="301.6" x2="664.66" y2="296.1" stroke="#222" stroke-width="1.3"/>
<line x1="680.51" y1="301.6" x2="680.51" y2="298.1" stroke="#222" stroke-width="1.3"/>
<line x1="696.37" y1="301.6" x2="696.37" y2="296.1" stroke="#222" stroke-width="1.3"/>
<line x1="712.22" y1="301.6" x2="712.22" y2="298.1" stroke="#222" stroke-width="1.3"/>
<line x1="728.08" y1="301.6" x2="728.08" y2="296.1" stroke="#222" stroke-width="1.3"/>
<line x1="743.93" y1="301.6" x2="743.93" y2="298.1" stroke="#222" stroke-width="1.3"/>
<line x1="759.79" y1="301.6" x2="759.79" y2="296.1" stroke="#222" stroke-width="1.3"/>
<line x1="775.64" y1="301.6" x2="775.64" y2="298.1" stroke="#222" stroke-width="1.3"/>
<text x="477.20" y="320.7" font-family="Liberation Sans, sans-serif" font-size="15.3" text-anchor="middle">100</text>
<text x="508.91" y="320.7" font-family="Liberation Sans, sans-serif" font-size="15.3" text-anchor="middle">120</text>
<text x="540.62" y="320.7" font-family="Liberation Sans, sans-serif" font-size="15.3" text-anchor="middle">140</text>
<text x="572.33" y="320.7" font-family="Liberation Sans, sans-serif" font-size="15.3" text-anchor="middle">160</text>
<text x="604.04" y="320.7" font-family="Liberation Sans, sans-serif" font-size="15.3" text-anchor="middle">180</text>
<text x="635.75" y="320.7" font-family="Liberation Sans, sans-serif" font-size="15.3" text-anchor="middle">200</text>
<text x="667.46" y="320.7" font-family="Liberation Sans, sans-serif" font-size="15.3" text-anchor="middle">220</text>
<text x="699.17" y="320.7" font-family="Liberation Sans, sans-serif" font-size="15.3" text-anchor="middle">240</text>
<text x="730.88" y="320.7" font-family="Liberation Sans, sans-serif" font-size="15.3" text-anchor="middle">260</text>
<text x="762.59" y="320.7" font-family="Liberation Sans, sans-serif" font-size="15.3" text-anchor="middle">280</text>
<text x="794.30" y="320.7" font-family="Liberation Sans, sans-serif" font-size="15.3" text-anchor="middle">300</text>
<text transform="translate(428.9,18.1) scale(0.95,1)" font-family="Liberation Sans, sans-serif" font-size="22.5" font-weight="bold">B</text>
<text transform="translate(444.8,240.2) rotate(-90)" font-family="Liberation Sans, sans-serif" font-size="24.9">Intensity (a.u.)</text>
<text x="557.5" y="343.5" font-family="Liberation Sans, sans-serif" font-size="18.3">Raman shift (cm<tspan font-size="12.5" dy="-6.5">-1</tspan><tspan dy="6.5">)</tspan></text>
<text transform="translate(618.5,38.9) scale(1.18,1)" font-family="Liberation Serif, serif" font-size="24">λ</text>
<text x="631.5" y="38.9" font-family="Liberation Sans, sans-serif" font-size="16.2">exciton</text>
<text x="681.5" y="38.9" font-family="Liberation Sans, sans-serif" font-size="25">:</text>
<text x="695.6" y="38.9" font-family="Liberation Sans, sans-serif" font-size="25.3">514 nm</text>
<text x="787" y="107.1" font-family="Liberation Serif, serif" font-size="19.85" fill="#000" color="#000" text-anchor="end">In/Se = 0.40</text>
<text x="788.4" y="150.9" font-family="Liberation Serif, serif" font-size="19.8" fill="#0a0ac8" color="#0a0ac8" text-anchor="end">In/Se = 0.67</text>
<text x="788.4" y="194.7" font-family="Liberation Serif, serif" font-size="19.8" fill="#f39020" color="#f39020" text-anchor="end">In/Se = 0.87</text>
<text x="783.1" y="247.3" font-family="Liberation Serif, serif" font-size="19.45" fill="#e8141e" color="#e8141e" text-anchor="end">In/Se = 1.03</text>
<text transform="translate(503.4,48.0) rotate(-90)" font-family="Liberation Sans, sans-serif" font-size="14.6" fill="#000" color="#000">In<tspan font-size="10.5" dy="4.8">2</tspan><tspan dy="-4.8">Se</tspan><tspan font-size="10.5" dy="4.8">3</tspan></text>
<text transform="translate(549.0,50.8) rotate(-90)" font-family="Liberation Sans, sans-serif" font-size="14.6" fill="#000" color="#000">In<tspan font-size="10.5" dy="4.8">2</tspan><tspan dy="-4.8">Se</tspan><tspan font-size="10.5" dy="4.8">3</tspan></text>
<text transform="translate(572.8,47.2) rotate(-90)" font-family="Liberation Sans, sans-serif" font-size="14.6" fill="#000" color="#000">In<tspan font-size="10.5" dy="4.8">2</tspan><tspan dy="-4.8">Se</tspan><tspan font-size="10.5" dy="4.8">3</tspan></text>
<text transform="translate(515.20,295.4) rotate(-90)" font-family="Liberation Sans, sans-serif" font-size="14.8" fill="#e8141e" color="#e8141e">InSe</text>
<text transform="translate(610.50,295.4) rotate(-90)" font-family="Liberation Sans, sans-serif" font-size="14.8" fill="#e8141e" color="#e8141e">InSe</text>
<text transform="translate(649.60,295.4) rotate(-90)" font-family="Liberation Sans, sans-serif" font-size="14.8" fill="#e8141e" color="#e8141e">InSe</text>
<text transform="translate(670.20,295.4) rotate(-90)" font-family="Liberation Sans, sans-serif" font-size="14.8" fill="#e8141e" color="#e8141e">InSe</text>
<text transform="translate(692.10,295.4) rotate(-90)" font-family="Liberation Sans, sans-serif" font-size="14.8" fill="#e8141e" color="#e8141e">InSe</text>
</svg></body></html>
